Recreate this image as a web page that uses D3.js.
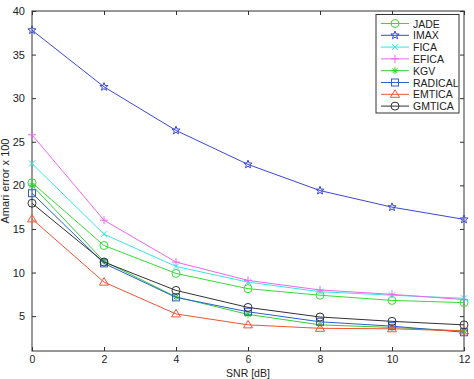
<!DOCTYPE html>
<html><head><meta charset="utf-8">
<script src="https://cdn.jsdelivr.net/npm/d3@7"></script>
<style>body{margin:0;background:#fff}svg{display:block}text{font-family:"Liberation Sans",Arial,sans-serif}</style>
</head><body><svg id="c" width="474" height="379"></svg>
<script>
const snr = [0, 2, 4, 6, 8, 10, 12];
const xTicks = [0, 2, 4, 6, 8, 10, 12];
const yTicks = [5, 10, 15, 20, 25, 30, 35, 40];
const names = ["JADE", "IMAX", "FICA", "EFICA", "KGV", "RADICAL", "EMTICA", "GMTICA"];
const jade    = [20.3, 13.1, 9.9, 8.15, 7.4, 6.8, 6.55];
const imax    = [37.8, 31.3, 26.3, 22.4, 19.4, 17.5, 16.1];
const fica    = [22.5, 14.4, 10.7, 8.9, 7.8, 7.4, 7.05];
const efica   = [25.8, 16.0, 11.2, 9.1, 8.0, 7.5, 6.9];
const kgv     = [20.0, 11.3, 7.2, 5.2, 4.0, 3.7, 3.3];
const radical = [19.1, 11.05, 7.15, 5.5, 4.35, 3.85, 3.15];
const emtica  = [16.15, 8.9, 5.25, 4.0, 3.6, 3.55, 3.3];
const gmtica  = [17.95, 11.2, 7.95, 6.0, 4.9, 4.4, 4.0];
const seriesVals = [jade, imax, fica, efica, kgv, radical, emtica, gmtica];
const colors = ["#33dd33", "#3a48d8", "#33e6e6", "#ee66ee", "#33cc33", "#2a5fd0", "#ee5533", "#333333"];
const markers = ["circle", "star", "x", "plus", "asterisk", "square", "triangle", "circle"];

const L = 32, R = 464, T = 11, B = 351;
const svg = d3.select("#c");
const x = d3.scaleLinear().domain([0, 12]).range([L, R]);
const y = d3.scaleLinear().domain([1, 40]).range([B, T]);

const axisCol = "#333";
svg.append("rect").attr("x", L).attr("y", T).attr("width", R - L).attr("height", B - T)
  .attr("fill", "none").attr("stroke", axisCol).attr("stroke-width", 1);

const tl = 4;
const gB = svg.append("g").attr("transform", `translate(0,${B})`)
  .call(d3.axisBottom(x).tickValues(xTicks).tickSize(-tl).tickPadding(5).tickFormat(d3.format("d")));
const gT = svg.append("g").attr("transform", `translate(0,${T})`)
  .call(d3.axisTop(x).tickValues(xTicks).tickSize(-tl).tickFormat(""));
const gL = svg.append("g").attr("transform", `translate(${L},0)`)
  .call(d3.axisLeft(y).tickValues(yTicks).tickSize(-tl).tickPadding(7).tickFormat(d3.format("d")));
const gR = svg.append("g").attr("transform", `translate(${R},0)`)
  .call(d3.axisRight(y).tickValues(yTicks).tickSize(-tl).tickFormat(""));
[gB, gT, gL, gR].forEach(g => {
  g.select(".domain").remove();
  g.selectAll(".tick line").attr("stroke", axisCol);
  g.selectAll("text").attr("fill", "#222").attr("font-size", 11);
});
gB.selectAll("text").attr("font-size", 10.5);

svg.append("text").attr("x", (L + R) / 2).attr("y", 376.5).attr("text-anchor", "middle")
  .attr("font-size", 10.5).attr("fill", "#222").text("SNR [dB]");
svg.append("text").attr("transform", `translate(9,${(T + B) / 2}) rotate(-90)`)
  .attr("text-anchor", "middle").attr("font-size", 11).attr("fill", "#222").text("Amari error x 100");

function marker(g, type, cx, cy, col) {
  const s = 4;
  if (type === "circle") g.append("circle").attr("cx", cx).attr("cy", cy).attr("r", s).attr("fill", "none").attr("stroke", col);
  else if (type === "square") g.append("rect").attr("x", cx - s + 0.5).attr("y", cy - s + 0.5).attr("width", 2 * s - 1).attr("height", 2 * s - 1).attr("fill", "none").attr("stroke", col);
  else if (type === "triangle") g.append("path").attr("d", `M${cx},${cy - s - 0.5}L${cx + s + 0.5},${cy + s - 1}L${cx - s - 0.5},${cy + s - 1}Z`).attr("fill", "none").attr("stroke", col);
  else if (type === "x") g.append("path").attr("d", `M${cx - 3},${cy - 3}L${cx + 3},${cy + 3}M${cx - 3},${cy + 3}L${cx + 3},${cy - 3}`).attr("stroke", col);
  else if (type === "plus") g.append("path").attr("d", `M${cx - 4},${cy}L${cx + 4},${cy}M${cx},${cy - 4}L${cx},${cy + 4}`).attr("stroke", col);
  else if (type === "asterisk") g.append("path").attr("d", `M${cx - 3.5},${cy}L${cx + 3.5},${cy}M${cx},${cy - 3.5}L${cx},${cy + 3.5}M${cx - 2.5},${cy - 2.5}L${cx + 2.5},${cy + 2.5}M${cx - 2.5},${cy + 2.5}L${cx + 2.5},${cy - 2.5}`).attr("stroke", col);
  else if (type === "star") {
    const pts = [];
    for (let i = 0; i < 10; i++) {
      const a = -Math.PI / 2 + i * Math.PI / 5, r = i % 2 ? 1.8 : 4.3;
      pts.push([cx + r * Math.cos(a), cy + r * Math.sin(a)]);
    }
    g.append("path").attr("d", "M" + pts.join("L") + "Z").attr("fill", "none").attr("stroke", col);
  }
}

const line = d3.line().x((d, i) => x(snr[i])).y(d => y(d));
seriesVals.forEach((vals, k) => {
  const g = svg.append("g");
  g.append("path").attr("d", line(vals)).attr("fill", "none").attr("stroke", colors[k]).attr("stroke-width", 1);
  vals.forEach((v, i) => marker(g, markers[k], x(snr[i]), y(v), colors[k]));
});

const lg = svg.append("g");
lg.append("rect").attr("x", 376).attr("y", 14.5).attr("width", 83).attr("height", 98.5)
  .attr("fill", "#fff").attr("stroke", axisCol);
names.forEach((n, k) => {
  const yy = 23.5 + k * 11.8;
  lg.append("line").attr("x1", 381).attr("x2", 409).attr("y1", yy).attr("y2", yy).attr("stroke", colors[k]);
  marker(lg, markers[k], 395, yy, colors[k]);
  lg.append("text").attr("x", 413).attr("y", yy + 4).attr("font-size", 10.5).attr("fill", "#222").text(n);
});
</script></body></html>
